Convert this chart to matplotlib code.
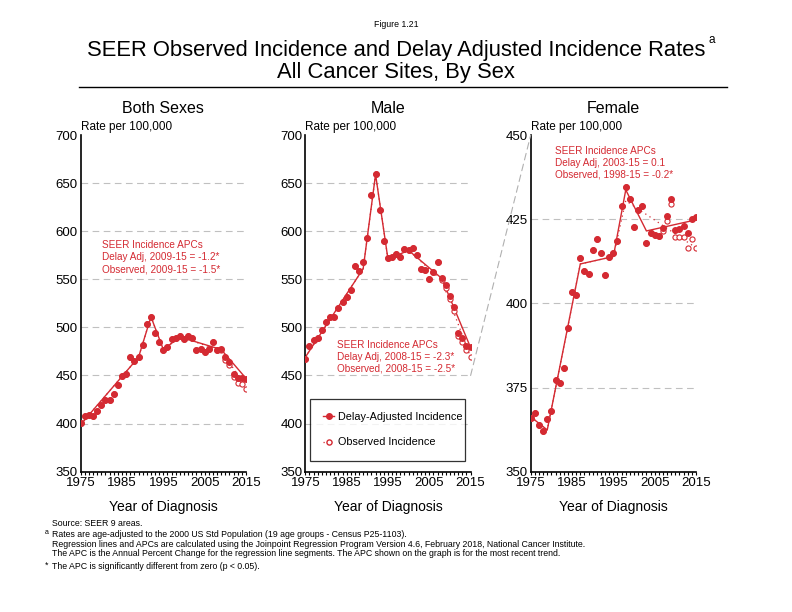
import matplotlib
matplotlib.use("Agg")
import matplotlib.pyplot as plt
from matplotlib.patches import ConnectionPatch
from matplotlib.lines import Line2D

plt.rcParams['font.family'] = ['Liberation Sans', 'DejaVu Sans']

RED = '#d42a32'

years = list(range(1975, 2016))

# Both sexes
both_delay = [401, 408, 408.7, 408, 413, 419, 425, 425, 431, 440.5,
              449, 452, 468.7, 465, 469, 482, 503, 511, 494, 485,
              477, 480, 487.5, 489, 491, 487.5, 491, 489, 477, 478,
              474, 477.6, 484.5, 477, 478, 469, 464, 452, 447.5, 447.5,
              446.5]
both_obs = [401, 408, 408.7, 408, 413, 419, 425, 425, 431, 440.5,
            449, 452, 468.7, 465, 469, 482, 503, 511, 494, 485,
            477, 480, 487.5, 489, 491, 487.5, 491, 489, 477, 478,
            474, 477.6, 484.5, 476.5, 476, 466, 461, 448, 442.5, 441,
            436.3]
both_fit_yrs = [1975, 1989, 1992, 1995, 1999, 2009, 2015]
both_fit_delay = [399, 469, 511, 477, 490, 477, 447]
both_fit_obs = [399, 469, 511, 477, 490, 476, 438]

# Male
male_delay = [467, 481, 486.7, 488.8, 496.8, 506, 511, 511, 520.5, 526,
              531.4, 538.4, 563.7, 559, 567.8, 593.4, 638, 659, 622, 590,
              572, 572.8, 576.3, 573.5, 581.7, 580.5, 582.3, 575.4, 560.7, 560,
              550.3, 557.6, 568.3, 551.6, 543.6, 532.5, 520.7, 494.3, 488.5, 481,
              479.5]
male_obs = [467, 481, 486.7, 488.8, 496.8, 506, 511, 511, 520.5, 526,
            531.4, 538.4, 563.7, 559, 567.8, 593.4, 638, 659, 622, 590,
            572, 572.8, 576.3, 573.5, 581.7, 580.5, 582.3, 575.4, 560.7, 560,
            550.3, 557.6, 568.3, 549.5, 541, 529, 517, 491, 485, 477,
            469.5]
male_fit_yrs = [1975, 1989, 1992, 1995, 2000, 2008, 2015]
male_fit_delay = [469, 561, 659, 571, 580, 551, 479]
male_fit_obs = [469, 561, 659, 571, 580, 549, 469]

# Female
female_delay = [365.8, 367.3, 363.9, 362.1, 365.5, 368.1, 377.2, 376.2, 380.7, 392.6,
                403.4, 402.5, 413.4, 409.6, 408.6, 415.8, 419.1, 414.9, 408.4, 413.8,
                415.1, 418.4, 428.9, 434.5, 431.0, 422.7, 427.7, 428.9, 417.9, 420.8,
                420.3, 420.0, 422.5, 425.9, 431.0, 421.8, 422.2, 423.0, 421.0, 425.0,
                425.6]
female_obs = [365.8, 367.3, 363.9, 362.1, 365.5, 368.1, 377.2, 376.2, 380.7, 392.6,
              403.4, 402.5, 413.4, 409.6, 408.6, 415.8, 419.1, 414.9, 408.4, 413.8,
              415.1, 418.4, 428.9, 434.5, 431.0, 422.7, 427.7, 428.9, 417.9, 420.8,
              420.3, 420.0, 421.6, 424.5, 429.5, 419.8, 419.8, 419.8, 416.3, 419.0,
              416.3]
female_fit_delay_yrs = [1975, 1979, 1987, 1995, 1998, 2003, 2015]
female_fit_delay = [366.3, 362.4, 411.7, 413.9, 433.7, 421.5, 424.8]
female_fit_obs_yrs = [1975, 1979, 1987, 1995, 1998, 2015]
female_fit_obs = [366.3, 362.4, 411.7, 413.9, 430.5, 416.5]

panels = [
    ("Both Sexes", both_delay, both_obs, both_fit_yrs, both_fit_delay, both_fit_yrs, both_fit_obs,
     (350, 700, 50), ["SEER Incidence APCs", "Delay Adj, 2009-15 = -1.2*", "Observed, 2009-15 = -1.5*"],
     (0.129, 0.688)),
    ("Male", male_delay, male_obs, male_fit_yrs, male_fit_delay, male_fit_yrs, male_fit_obs,
     (350, 700, 50), ["SEER Incidence APCs", "Delay Adj, 2008-15 = -2.3*", "Observed, 2008-15 = -2.5*"],
     (0.19, 0.392)),
    ("Female", female_delay, female_obs, female_fit_delay_yrs, female_fit_delay, female_fit_obs_yrs,
     female_fit_obs, (350, 450, 25),
     ["SEER Incidence APCs", "Delay Adj, 2003-15 = 0.1", "Observed, 1998-15 = -0.2*"],
     (0.148, 0.968)),
]

fig = plt.figure(figsize=(7.92, 6.12), dpi=100)
lefts = [0.1019, 0.3855, 0.6701]
axes = []
for left, (title, dly, obs, fy_d, fd, fy_o, fo, (ylo, yhi, ystep), apc, tpos) in zip(lefts, panels):
    ax = fig.add_axes([left, 0.2293, 0.2087, 0.5501])
    axes.append(ax)
    ax.plot(fy_o, fo, color=RED, lw=0.9, ls=(0, (1, 3)), zorder=2)
    ax.plot(fy_d, fd, color=RED, lw=1.0, zorder=2)
    ax.plot(years, obs, ls='none', marker='o', ms=3.7, mfc='white', mec=RED, mew=0.8, zorder=3)
    ax.plot(years, dly, ls='none', marker='o', ms=4.0, mfc=RED, mec=RED, zorder=4)

    ax.set_xlim(1975, 2015)
    ax.set_ylim(ylo, yhi)
    ax.set_xticks(range(1975, 2016, 10))
    ax.set_xticks(years, minor=True)
    ax.set_yticks(range(ylo, yhi + 1, ystep))
    ax.tick_params(axis='x', which='both', direction='out', length=2.5, width=0.8)
    ax.tick_params(axis='x', which='major', labelsize=9.5, pad=1.5)
    ax.tick_params(axis='y', length=0, labelsize=9.5, pad=2)
    ax.grid(axis='y', color='#c0c0c0', ls=(0, (6, 4)), lw=0.8)
    ax.set_axisbelow(True)
    gl = ax.get_ygridlines()
    gl[0].set_visible(False)
    gl[-1].set_visible(False)
    for s in ['top', 'right']:
        ax.spines[s].set_visible(False)
    for s in ['left', 'bottom']:
        ax.spines[s].set_linewidth(1.2)
    ax.set_title(title, fontsize=11.5, pad=16)
    ax.text(0.0, 1.005, "Rate per 100,000", transform=ax.transAxes, fontsize=8.5,
            ha='left', va='bottom')
    ax.set_xlabel("Year of Diagnosis", fontsize=10, labelpad=8)
    ax.text(tpos[0], tpos[1], "\n".join(apc), transform=ax.transAxes, fontsize=7.2,
            color=RED, ha='left', va='top', linespacing=1.25)

# legend in the Male panel
handles = [Line2D([], [], color=RED, lw=1.0, marker='o', ms=4.0, mfc=RED, mec=RED),
           Line2D([], [], color=RED, lw=0.9, ls=(0, (1, 2)), marker='o', ms=3.7, mfc='white', mec=RED)]
leg = axes[1].legend(handles, ["Delay-Adjusted Incidence", "Observed Incidence"],
                     loc='lower left', bbox_to_anchor=(0.028, 0.032, 0.94, 0.18), mode='expand',
                     fontsize=7.8, frameon=True, fancybox=False, handlelength=1.0,
                     handletextpad=0.35, borderaxespad=0, labelspacing=1.4, borderpad=1.25)
leg.get_frame().set_edgecolor('black')
leg.get_frame().set_linewidth(0.9)

# zoom connector between Male and Female scales
con = ConnectionPatch(xyA=(2015, 450), coordsA=axes[1].transData,
                      xyB=(1975, 450), coordsB=axes[2].transData,
                      color='#b0b0b0', lw=0.8, ls=(0, (6, 4)))
fig.add_artist(con)

fig.text(0.5, 0.956, "Figure 1.21", ha='center', fontsize=6.3)
fig.text(0.5, 0.909, "SEER Observed Incidence and Delay Adjusted Incidence Rates", ha='center',
         fontsize=15.8)
fig.text(0.894, 0.930, "a", ha='left', fontsize=8.5)
fig.text(0.5, 0.872, "All Cancer Sites, By Sex", ha='center', fontsize=15.8)
fig.add_artist(Line2D([0.1, 0.918], [0.858, 0.858], transform=fig.transFigure, color='black', lw=1.0))

notes_x = 0.066
fig.text(notes_x, 0.140, "Source: SEER 9 areas.", fontsize=6.3)
fig.text(0.057, 0.127, "a", fontsize=5)
fig.text(notes_x, 0.123, "Rates are age-adjusted to the 2000 US Std Population (19 age groups - Census P25-1103).",
         fontsize=6.3)
fig.text(notes_x, 0.107, "Regression lines and APCs are calculated using the Joinpoint Regression Program "
         "Version 4.6, February 2018, National Cancer Institute.", fontsize=6.3)
fig.text(notes_x, 0.091, "The APC is the Annual Percent Change for the regression line segments. "
         "The APC shown on the graph is for the most recent trend.", fontsize=6.3)
fig.text(0.057, 0.072, "*", fontsize=6.3)
fig.text(notes_x, 0.070, "The APC is significantly different from zero (p < 0.05).", fontsize=6.3)

fig.savefig("out.png", dpi=100)
